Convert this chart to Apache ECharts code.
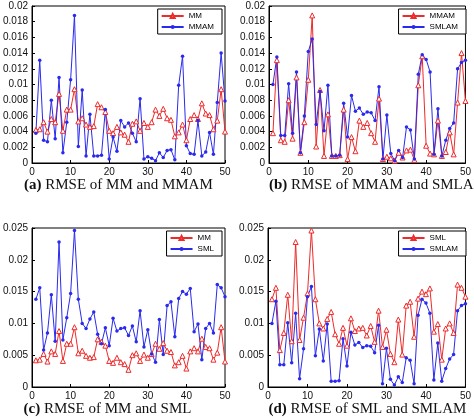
<!DOCTYPE html>
<html>
<head>
<meta charset="utf-8">
<script src="https://cdn.jsdelivr.net/npm/echarts@6/dist/echarts.min.js"></script>
<style>
    html, body { margin: 0; padding: 0; background: #fff; }
    #chart { width: 474px; height: 418px; }
</style>
</head>
<body>
<div id="chart"></div>
<script>
// x = 1..50
const xs = Array.from({length: 50}, (_, i) => i + 1)

const mm = [.0042, .0043, .0052, .0040, .0056, .0052, .0088, .0041, .0068, .0068,
    .0094, .0053, .0057, .0049, .0046, .0047, .0075, .0071, .0065, .0041,
    .0038, .0046, .0039, .0036, .0027, .0050, .0053, .0041, .0051, .0046,
    .0052, .0068, .0060, .0069, .0057, .0055, .0034, .0039, .0049, .0029,
    .0056, .0061, .0056, .0076, .0063, .0061, .0043, .0054, .0094, .0040]

const mmam = [.0038, .0131, .0029, .0027, .0080, .0031, .0109, .0013, .0052, .0106,
    .0188, .0021, .0093, .0009, .0062, .0009, .0009, .0010, .0068, .0005,
    .0033, .0015, .0054, .0046, .0051, .0038, .0027, .0082, .0005, .0008,
    .0006, .0003, .0013, .0007, .0016, .0017, .0004, .0099, .0136, .0022,
    .0012, .0011, .0054, .0009, .0014, .0039, .0011, .0077, .0140, .0079]

const smlam = [.0100, .0135, .0035, .0035, .0101, .0038, .0116, .0013, .0060, .0142,
    .0158, .0049, .0091, .0041, .0099, .0009, .0009, .0010, .0076, .0033,
    .0086, .0066, .0070, .0062, .0065, .0064, .0054, .0097, .0005, .0061,
    .0012, .0003, .0016, .0007, .0046, .0042, .0005, .0113, .0138, .0132,
    .0116, .0011, .0069, .0009, .0029, .0044, .0051, .0120, .0128, .0131]

const sml = [.0138, .0156, .0058, .0085, .0145, .0072, .0228, .0074, .0109, .0147,
    .0246, .0138, .0100, .0092, .0107, .0118, .0083, .0068, .0093, .0065,
    .0108, .0088, .0092, .0093, .0081, .0096, .0071, .0120, .0063, .0090,
    .0052, .0039, .0106, .0051, .0128, .0134, .0079, .0139, .0150, .0146,
    .0155, .0087, .0099, .0043, .0092, .0100, .0085, .0161, .0156, .0142]

// 每个子图: 红线, 蓝线, y轴上限, 间隔, 标题
const panels = [
    {red: ['MM', mm], blue: ['MMAM', mmam], max: 0.02, step: 0.002, tag: '(a)', cap: ' RMSE of MM and MMAM'},
    {red: ['MMAM', mmam], blue: ['SMLAM', smlam], max: 0.02, step: 0.002, tag: '(b)', cap: ' RMSE of MMAM and SMLAM'},
    {red: ['MM', mm], blue: ['SML', sml], max: 0.025, step: 0.005, tag: '(c)', cap: ' RMSE of MM and SML'},
    {red: ['SML', sml], blue: ['SMLAM', smlam], max: 0.025, step: 0.005, tag: '(d)', cap: ' RMSE of SML and SMLAM'}
]

const boxes = [
    {l: 23, t: 6, w: 202, h: 157},
    {l: 269, t: 6, w: 200, h: 157},
    {l: 22, t: 228, w: 203, h: 159},
    {l: 268, t: 228, w: 201, h: 159}
]

const RED = '#ee2a2a', BLUE = '#2a2aee'
let grid = [], xAxis = [], yAxis = [], series = [], legend = [], graphic = []

panels.forEach((p, i) => {
    const b = boxes[i]
    grid.push({left: b.l, top: b.t, width: b.w, height: b.h, show: true, borderColor: '#000', borderWidth: 1, backgroundColor: '#fff'})
    xAxis.push({
        type: 'value', gridIndex: i, min: 0, max: 50, interval: 10,
        axisLine: {lineStyle: {color: '#000'}}, splitLine: {show: false},
        axisTick: {inside: true, length: 3, lineStyle: {color: '#000'}},
        axisLabel: {color: '#111', fontSize: 10, fontFamily: 'Liberation Sans', margin: 4}
    })
    yAxis.push({
        type: 'value', gridIndex: i, min: 0, max: p.max, interval: p.step,
        axisLine: {show: true, lineStyle: {color: '#000'}}, splitLine: {show: false},
        axisTick: {inside: true, length: 3, lineStyle: {color: '#000'}},
        axisLabel: {color: '#111', fontSize: 10, fontFamily: 'Liberation Sans', margin: 4,
            formatter: v => v === 0 ? '0' : String(+v.toFixed(4))}
    })
    const rn = p.red[0] + '#' + i, bn = p.blue[0] + '#' + i
    series.push({
        name: rn, type: 'line', xAxisIndex: i, yAxisIndex: i,
        data: xs.map((x, k) => [x, p.red[1][k]]),
        symbol: 'triangle', symbolSize: 5,
        lineStyle: {color: RED, width: 1},
        itemStyle: {color: '#fff', borderColor: RED, borderWidth: 1}
    })
    series.push({
        name: bn, type: 'line', xAxisIndex: i, yAxisIndex: i,
        data: xs.map((x, k) => [x, p.blue[1][k]]),
        symbol: 'circle', symbolSize: 3.5,
        lineStyle: {color: BLUE, width: 1}, itemStyle: {color: BLUE}
    })
    legend.push({
        data: [rn, bn], orient: 'vertical',
        right: 474 - b.l - b.w + 3, top: b.t + 3,
        itemWidth: 22, itemHeight: 5, itemGap: 3, padding: [3, 8, 3, 3],
        borderColor: '#000', borderWidth: 1, backgroundColor: '#fff',
        formatter: n => n.split('#')[0],
        textStyle: {fontSize: 8, fontFamily: 'Liberation Sans', color: '#000'}
    })
    graphic.push({
        type: 'text', left: b.l + b.w / 2 - 100, top: b.t + b.h + 15,
        style: {
            text: '{b|' + p.tag + '}' + p.cap, width: 200, align: 'center',
            font: '15px "Liberation Serif"', fill: '#111',
            rich: {b: {font: 'bold 15px "Liberation Serif"', fill: '#111'}}
        }
    })
})

const chart = echarts.init(document.getElementById('chart'))
chart.setOption({
    animation: false,
    backgroundColor: '#fff',
    grid, xAxis, yAxis, series, legend, graphic
})
</script>
</body>
</html>
